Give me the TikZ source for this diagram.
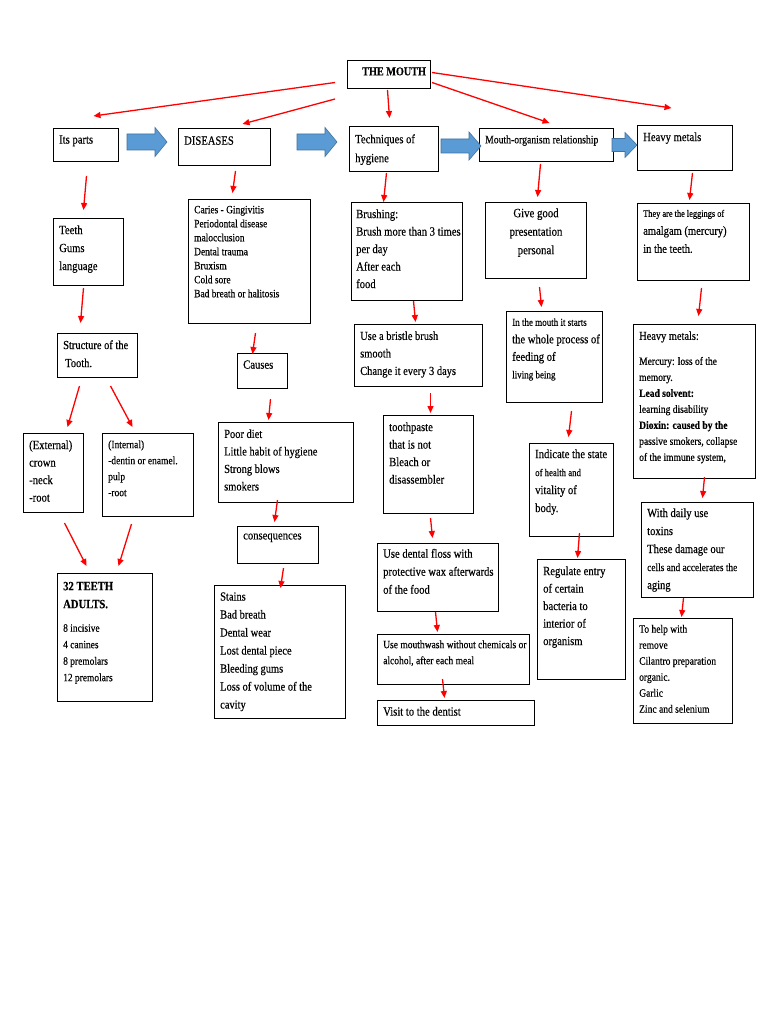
\documentclass[tikz,border=0pt]{standalone}
\usepackage{fontspec}
\setmainfont{Liberation Serif}[FakeStretch=0.85, FakeBold=0.3]
\usetikzlibrary{arrows.meta, calc}
\newcommand{\fsz}[2]{\fontsize{#1}{#2}\selectfont}
\definecolor{arrblue}{HTML}{5B9BD5}
\definecolor{arredge}{HTML}{41719C}

\tikzset{
  box/.style={draw, line width=1pt, anchor=north west, inner sep=0pt},
  txt/.style={anchor=north west, align=left, inner xsep=6pt, inner ysep=7.2pt},
  redarr/.style={red, line width=1.3pt, -{Triangle[length=7pt,width=6pt]}},
  block/.style={fill=arrblue, draw=arredge, line width=0.6pt},
}

\begin{document}
\begin{tikzpicture}[x=1pt, y=-1pt]
\useasboundingbox[fill=white] (0,0) rectangle (768,1024);

% top row
\node[box, minimum width=83, minimum height=28, label={[txt, inner xsep=15pt, font=\fsz{12}{13}\bfseries]north west:THE MOUTH}] (mouth) at (347,60) {};
\node[box, minimum width=65, minimum height=33, label={[txt, font=\fsz{12.5}{19}]north west:Its parts}] (parts) at (53,128) {};
\node[box, minimum width=92, minimum height=37, label={[txt, inner ysep=8.2pt, font=\fsz{12.5}{19}]north west:DISEASES}] (dis) at (178,128) {};
\node[box, minimum width=89, minimum height=45, label={[txt, inner ysep=8.2pt, font=\fsz{12.5}{19}]north west:Techniques of\\hygiene}] (tech) at (349,126) {};
\node[box, minimum width=134, minimum height=33, label={[txt, font=\fsz{11.4}{13}]north west:Mouth-organism relationship}] (morg) at (479,128) {};
\node[box, minimum width=95, minimum height=45, label={[txt, font=\fsz{12.5}{19}]north west:Heavy metals}] (heavy) at (637,125) {};

% block arrows between the top boxes
\foreach \x/\y/\l/\s/\h in {127/142/40/8/14.5, 297/142/40/8/14.5, 441/146/40/7/14, 612/145/25/6.5/12.5}
  \filldraw[block] (\x,\y-\s) -- (\x+\l-12,\y-\s) -- (\x+\l-12,\y-\h) -- (\x+\l,\y)
    -- (\x+\l-12,\y+\h) -- (\x+\l-12,\y+\s) -- (\x,\y+\s) -- cycle;

% its parts
\node[box, minimum width=70, minimum height=67, label={[txt, font=\fsz{12.5}{18}]north west:Teeth\\Gums\\language}] (teeth) at (53,218) {};
\node[box, minimum width=80, minimum height=44, label={[txt, font=\fsz{12.3}{18}]north west:Structure of the\\\hspace{2pt}Tooth.}] (struct) at (57,333) {};
\node[box, minimum width=60, minimum height=79, label={[txt, font=\fsz{12.5}{17.5}]north west:(External)\\crown\\-neck\\-root}] (ext) at (23,433) {};
\node[box, minimum width=91, minimum height=83, label={[txt, font=\fsz{11.2}{16}]north west:(Internal)\\-dentin or enamel.\\pulp\\-root}] (int) at (102,433) {};
\node[box, minimum width=95, minimum height=128, label={[txt, inner ysep=8.7pt, font=\fsz{11.1}{16.5}]north west:{\fsz{12.5}{18}\bfseries 32 TEETH}\\[1.5pt]{\fsz{12.5}{18}\bfseries ADULTS.}\\[7pt]8 incisive\\4 canines\\8 premolars\\12 premolars}] (adults) at (57,573) {};

% diseases
\node[box, minimum width=122, minimum height=124, label={[txt, inner ysep=6.7pt, font=\fsz{11.1}{14}]north west:Caries - Gingivitis\\Periodontal disease\\malocclusion\\Dental trauma\\Bruxism\\Cold sore\\Bad breath or halitosis}] (dlist) at (188,199) {};
\node[box, minimum width=50, minimum height=35, label={[txt, font=\fsz{12.5}{17}]north west:Causes}] (causes) at (237,353) {};
\node[box, minimum width=135, minimum height=80, label={[txt, font=\fsz{12.3}{17.5}]north west:Poor diet\\Little habit of hygiene\\Strong blows\\smokers}] (poor) at (218,422) {};
\node[box, minimum width=81, minimum height=37, label={[txt, font=\fsz{12.5}{14}]north west:consequences}] (conseq) at (237,526) {};
\node[box, minimum width=131, minimum height=133, label={[txt, font=\fsz{12.3}{18}]north west:Stains\\Bad breath\\Dental wear\\Lost dental piece\\Bleeding gums\\Loss of volume of the\\cavity}] (stains) at (214,585) {};

% hygiene
\node[box, minimum width=111, minimum height=98, label={[txt, inner xsep=5pt, font=\fsz{12.5}{17.5}]north west:{Brushing:\\Brush more than 3 times\\per day\\After each\\food}}] (brush) at (351,202) {};
\node[box, minimum width=128, minimum height=62, label={[txt, font=\fsz{12.3}{17.5}]north west:Use a bristle brush\\smooth\\Change it every 3 days}] (bristle) at (354,324) {};
\node[box, minimum width=90, minimum height=98, label={[txt, font=\fsz{12.5}{17.5}]north west:toothpaste\\that is not\\Bleach or\\disassembler}] (paste) at (383,415) {};
\node[box, minimum width=121, minimum height=68, label={[txt, inner ysep=5.7pt, font=\fsz{12.5}{18}]north west:Use dental floss with\\protective wax afterwards\\of the food}] (floss) at (377,543) {};
\node[box, minimum width=152, minimum height=50, label={[txt, inner ysep=6.2pt, font=\fsz{11.2}{16}]north west:Use mouthwash without chemicals or\\alcohol, after each meal}] (wash) at (377,634) {};
\node[box, minimum width=157, minimum height=25, label={[txt, inner ysep=6.7pt, font=\fsz{12.5}{14}]north west:Visit to the dentist}] (visit) at (377,700) {};

% mouth-organism relationship
\node[box, minimum width=101, minimum height=76, label={[txt, anchor=north, align=center, inner ysep=6.2pt, font=\fsz{12.7}{18.5}]north:Give good\\presentation\\personal}] (give) at (485,202) {};
\node[box, minimum width=96, minimum height=91, label={[txt, font=\fsz{12.5}{17.5}]north west:{\fsz{10.6}{12}In the mouth it starts}\\the whole process of\\feeding of\\{\fsz{10.6}{12}living being}}] (inmouth) at (506,311) {};
\node[box, minimum width=84, minimum height=93, label={[txt, inner ysep=6.2pt, font=\fsz{12.5}{18}]north west:Indicate the state\\{\fsz{10.3}{12}of health and}\\vitality of\\body.}] (indicate) at (529,443) {};
\node[box, minimum width=88, minimum height=120, label={[txt, font=\fsz{12.5}{17.5}]north west:Regulate entry\\of certain\\bacteria to\\interior of\\organism}] (regulate) at (537,559) {};

% heavy metals
\node[box, minimum width=112, minimum height=77, label={[txt, inner ysep=6.7pt, font=\fsz{12.4}{18}]north west:{\fsz{9.8}{12}They are the leggings of}\\amalgam (mercury)\\in the teeth.}] (theyare) at (637,203) {};
\node[box, minimum width=122, minimum height=154, label={[txt, font=\fsz{11.2}{16}]north west:{{\fsz{12.2}{16}Heavy metals:}\\[9pt]Mercury: loss of the\\memory.\\\textbf{Lead solvent:}\\learning disability\\\textbf{Dioxin: caused by the}\\passive smokers, collapse\\of the immune system,}}] (metals) at (633,324) {};
\node[box, minimum width=112, minimum height=95, label={[txt, inner ysep=6.2pt, font=\fsz{12.4}{18}]north west:With daily use\\toxins\\These damage our\\{\fsz{11}{12}cells and accelerates the}\\aging}] (daily) at (641,502) {};
\node[box, minimum width=99, minimum height=105, label={[txt, inner ysep=6.7pt, font=\fsz{11.2}{16}]north west:To help with\\remove\\Cilantro preparation\\organic.\\Garlic\\Zinc and selenium}] (tohelp) at (633,618) {};

% red arrows from the title
\draw[redarr] ([shift={(-12,8)}]mouth.west) -- ([shift={(7.5,-12)}]parts.north);
\draw[redarr] ([shift={(-12,10)}]mouth.south west) -- ([shift={(18,-4)}]dis.north);
\draw[redarr] ([shift={(-1.5,1)}]mouth.south) -- ([shift={(-4.5,-8)}]tech.north);
\draw[redarr] ([shift={(1,8)}]mouth.east) -- ([shift={(3,-5)}]morg.north);
\draw[redarr] ([shift={(1,-2)}]mouth.east) -- ([shift={(-13.5,-17)}]heavy.north);

% its parts column
\draw[redarr] ([shift={(0.5,14)}]parts.south) -- ([shift={(-5,-8)}]teeth.north);
\draw[redarr] ([shift={(-5,2)}]teeth.south) -- ([shift={(-17,-10)}]struct.north);
\draw[redarr] ([shift={(-18,8)}]struct.south) -- ([shift={(14,-6)}]ext.north);
\draw[redarr] ([shift={(13,8)}]struct.south) -- ([shift={(-15.5,-6)}]int.north);
\draw[redarr] ([shift={(11,10)}]ext.south) -- ([shift={(-18.5,-7)}]adults.north);
\draw[redarr] ([shift={(-16.5,7)}]int.south) -- ([shift={(13.5,-7)}]adults.north);

% diseases column
\draw[redarr] ([shift={(11,5)}]dis.south) -- ([shift={(-17,-6)}]dlist.north);
\draw[redarr] ([shift={(6,9)}]dlist.south) -- ([shift={(-10,1)}]causes.north);
\draw[redarr] ([shift={(8,10)}]causes.south) -- ([shift={(-17.5,-2)}]poor.north);
\draw[redarr] ([shift={(-8.5,-3)}]poor.south) -- ([shift={(-3.5,-4)}]conseq.north);
\draw[redarr] ([shift={(5.5,4)}]conseq.south) -- ([shift={(0.5,3)}]stains.north);

% hygiene column
\draw[redarr] ([shift={(-7.5,1)}]tech.south) -- ([shift={(-23.5,0)}]brush.north);
\draw[redarr] ([shift={(6.5,0)}]brush.south) -- ([shift={(-3,-2)}]bristle.north);
\draw[redarr] ([shift={(12,6)}]bristle.south) -- ([shift={(2,-2)}]paste.north);
\draw[redarr] ([shift={(2,4)}]paste.south) -- ([shift={(-5.5,-5)}]floss.north);
\draw[redarr] ([shift={(-2.5,0)}]floss.south) -- ([shift={(-16,-2)}]wash.north);
\draw[redarr] ([shift={(-11,-6)}]wash.south) -- ([shift={(-11.5,-2)}]visit.north);

% relationship column
\draw[redarr] ([shift={(-6,2)}]morg.south) -- ([shift={(1.5,-5)}]give.north);
\draw[redarr] ([shift={(3.5,8)}]give.south) -- ([shift={(-13,-4)}]inmouth.north);
\draw[redarr] ([shift={(17,8)}]inmouth.south) -- ([shift={(-3,-6)}]indicate.north);
\draw[redarr] ([shift={(8,-4)}]indicate.south) -- ([shift={(-4,-1)}]regulate.north);

% heavy metals column
\draw[redarr] ([shift={(7.5,2)}]heavy.south) -- ([shift={(-4,-3)}]theyare.north);
\draw[redarr] ([shift={(8,7)}]theyare.south) -- ([shift={(4,-8)}]metals.north);
\draw[redarr] ([shift={(10,-2)}]metals.south) -- ([shift={(5,-4)}]daily.north);
\draw[redarr] ([shift={(-14,0)}]daily.south) -- ([shift={(-1.5,-1)}]tohelp.north);
\end{tikzpicture}
\end{document}
